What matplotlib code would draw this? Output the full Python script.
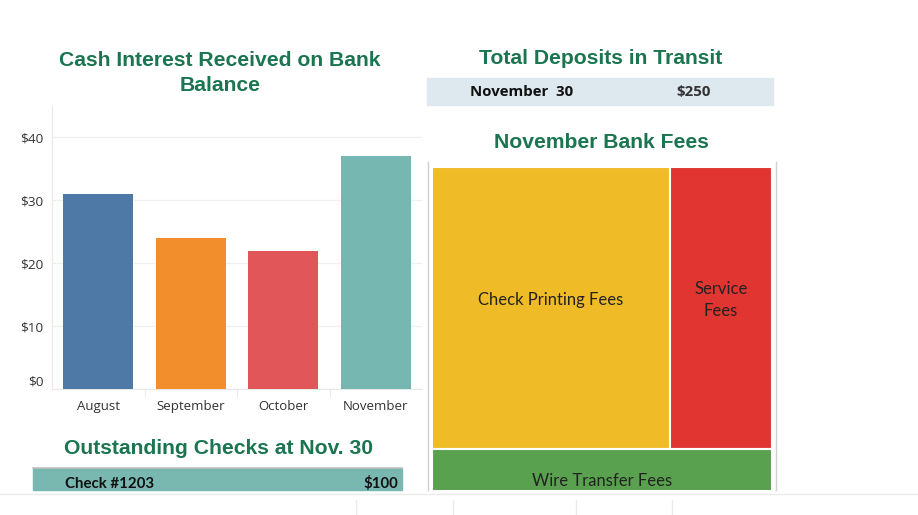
import matplotlib
matplotlib.use("Agg")
import matplotlib.pyplot as plt
from matplotlib.patches import Rectangle
from matplotlib.lines import Line2D

W, H = 918, 515

# Data
months = ["August", "September", "October", "November"]
interest = [31, 24, 22, 37]
bar_colors = ["#4e79a7", "#f28e2b", "#e15759", "#76b7b2"]
y_ticks = [0, 10, 20, 30, 40]

deposit_date = "November  30"
deposit_amount = "$250"

fee_names = ["Check Printing Fees", "Service\nFees", "Wire Transfer Fees"]
fee_values = [70, 30, 22]
fee_colors = ["#efbb27", "#e03531", "#59a14f"]

check_no = "Check #1203"
check_amount = "$100"

TITLE_GREEN = "#1a7550"
TITLE_FONT = dict(family="Liberation Sans", fontweight="bold", color=TITLE_GREEN, fontsize=15.2)


def box(x0, y0, x1, y1):
    # pixel box (top-left origin) -> figure fraction rect
    return [x0 / W, 1 - y1 / H, (x1 - x0) / W, (y1 - y0) / H]


def fx(x):
    return x / W


def fy(y):
    return 1 - y / H


fig = plt.figure(figsize=(W / 100, H / 100), dpi=100)

# ---- Cash interest bar chart ----
ax = fig.add_axes(box(52, 106, 422, 389))
xs = range(len(months))
ax.bar(xs, interest, width=0.757, color=bar_colors, zorder=3)
ax.set_xlim(-0.5, len(months) - 0.5)
ax.set_ylim(0, 45)
ax.set_yticks(y_ticks)
ax.set_yticklabels([f"${v}" for v in y_ticks], fontsize=9.7, family="Open Sans", color="#333333")
ax.get_yticklabels()[0].set_verticalalignment("bottom")
ax.set_xticks(list(xs))
ax.set_xticklabels(months, fontsize=9.5, family="Open Sans", color="#333333")
ax.set_xticks([0.5, 1.5, 2.5], minor=True)
ax.tick_params(axis="x", which="major", length=0, pad=8)
ax.tick_params(axis="x", which="minor", length=6, color="#e6e6e6")
ax.tick_params(axis="y", length=0, pad=6)
for s in ["top", "right"]:
    ax.spines[s].set_visible(False)
for s in ["left", "bottom"]:
    ax.spines[s].set_color("#e8e8e8")
ax.grid(axis="y", color="#f0f0f0", linewidth=1, zorder=0)

fig.text(fx(220), fy(73), "Cash Interest Received on Bank\nBalance", ha="center", va="center",
         linespacing=1.38, **TITLE_FONT)

# ---- Total deposits in transit ----
fig.text(fx(601), fy(58), "Total Deposits in Transit", ha="center", va="center", **TITLE_FONT)
fig.patches.append(Rectangle((fx(427), fy(105)), (773 - 427) / W, 27 / H,
                             transform=fig.transFigure, color="#dde8ef", zorder=0))
fig.text(fx(470), fy(92), deposit_date, ha="left", va="center", fontsize=10.8,
         family="Open Sans", fontweight="bold", color="#111111")
fig.text(fx(676), fy(92), deposit_amount, ha="left", va="center", fontsize=10.8,
         family="Open Sans", fontweight="bold", color="#333333")

# ---- November bank fees treemap ----
fig.text(fx(601), fy(142), "November Bank Fees", ha="center", va="center", **TITLE_FONT)
tax = fig.add_axes(box(432, 167, 772, 490))
total = sum(fee_values)
top_h = (fee_values[0] + fee_values[1]) / total
w0 = fee_values[0] / (fee_values[0] + fee_values[1])
rects = [
    (0, 0, w0, top_h),
    (w0, 0, 1 - w0, top_h),
    (0, top_h, 1, 1 - top_h),
]
label_shift = [6, 6, -1]
for (x, y, w, h), name, c, dy in zip(rects, fee_names, fee_colors, label_shift):
    tax.add_patch(Rectangle((x, y), w, h, facecolor=c, edgecolor="white", linewidth=1.5))
    tax.annotate(name, (x + w / 2, y + h / 2), xytext=(0, dy), textcoords="offset points",
                 ha="center", va="center", fontsize=12, family="Lato", color="#222222",
                 linespacing=1.45)
tax.set_xlim(0, 1)
tax.set_ylim(0.939, 0)
tax.axis("off")
for x in (428, 776):
    fig.add_artist(Line2D([fx(x), fx(x)], [fy(162), fy(490)], color="#d0d0d0", linewidth=1))

# ---- Outstanding checks ----
fig.text(fx(218), fy(448), "Outstanding Checks at Nov. 30", ha="center", va="center", **TITLE_FONT)
fig.patches.append(Rectangle((fx(33), fy(490)), (402 - 33) / W, 22 / H,
                             transform=fig.transFigure, color="#79b7b1", zorder=0))
fig.add_artist(Line2D([fx(33), fx(402)], [fy(468), fy(468)], color="#c0c0c0", linewidth=1.2))
fig.text(fx(65), fy(484), check_no, ha="left", va="center", fontsize=10.8,
         family="Lato", fontweight="bold", color="#111111")
fig.text(fx(398), fy(484), check_amount, ha="right", va="center", fontsize=10.8,
         family="Lato", fontweight="bold", color="#111111")

# ---- bottom dashboard separators ----
fig.add_artist(Line2D([0, 1], [fy(494), fy(494)], color="#ebebeb", linewidth=1))
for x in (356, 453, 576, 672):
    fig.add_artist(Line2D([fx(x), fx(x)], [fy(500), fy(515)], color="#ebebeb", linewidth=1))

fig.savefig("out.png", dpi=100)
